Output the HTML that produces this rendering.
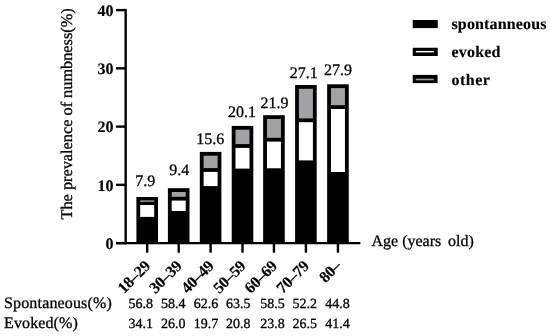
<!DOCTYPE html><html><head><meta charset="utf-8"><style>html,body{margin:0;padding:0;background:#fff;}svg{display:block;}text{font-family:"Liberation Serif","Times New Roman",serif;fill:#000;text-rendering:geometricPrecision;stroke:#000;stroke-width:0.3px;}text[font-weight="bold"]{stroke-width:0.15px;}</style></head><body>
<svg width="550" height="336" viewBox="0 0 550 336">
<rect width="550" height="336" fill="#fff"/>
<rect x="136.40" y="197.00" width="21.60" height="46.10" fill="#000"/>
<rect x="140.20" y="200.40" width="14.00" height="1.40" fill="#a2a1a6"/>
<rect x="140.20" y="205.00" width="14.00" height="11.90" fill="#fff"/>
<rect x="167.90" y="188.20" width="21.60" height="54.90" fill="#000"/>
<rect x="171.70" y="192.00" width="14.00" height="4.80" fill="#a2a1a6"/>
<rect x="171.70" y="200.60" width="14.00" height="10.40" fill="#fff"/>
<rect x="199.80" y="151.90" width="21.60" height="91.20" fill="#000"/>
<rect x="203.60" y="155.70" width="14.00" height="12.40" fill="#a2a1a6"/>
<rect x="203.60" y="171.90" width="14.00" height="14.20" fill="#fff"/>
<rect x="231.70" y="125.90" width="21.60" height="117.20" fill="#000"/>
<rect x="235.50" y="129.70" width="14.00" height="14.40" fill="#a2a1a6"/>
<rect x="235.50" y="147.90" width="14.00" height="20.70" fill="#fff"/>
<rect x="263.15" y="115.20" width="21.60" height="127.90" fill="#000"/>
<rect x="266.95" y="119.00" width="14.00" height="18.80" fill="#a2a1a6"/>
<rect x="266.95" y="141.60" width="14.00" height="26.70" fill="#fff"/>
<rect x="295.10" y="85.00" width="21.60" height="158.10" fill="#000"/>
<rect x="298.90" y="88.80" width="14.00" height="29.60" fill="#a2a1a6"/>
<rect x="298.90" y="122.20" width="14.00" height="38.20" fill="#fff"/>
<rect x="327.15" y="84.30" width="21.60" height="158.80" fill="#000"/>
<rect x="330.95" y="88.10" width="14.00" height="17.10" fill="#a2a1a6"/>
<rect x="330.95" y="109.00" width="14.00" height="63.00" fill="#fff"/>
<line x1="125.65" y1="8.9" x2="125.65" y2="244.30" stroke="#000" stroke-width="2.4"/>
<line x1="116" y1="243.10" x2="125.65" y2="243.10" stroke="#000" stroke-width="2.4"/>
<text x="113.5" y="248.90" font-size="16" font-weight="bold" text-anchor="end">0</text>
<line x1="116" y1="184.85" x2="125.65" y2="184.85" stroke="#000" stroke-width="2.4"/>
<text x="113.5" y="190.65" font-size="16" font-weight="bold" text-anchor="end">10</text>
<line x1="116" y1="126.60" x2="125.65" y2="126.60" stroke="#000" stroke-width="2.4"/>
<text x="113.5" y="132.40" font-size="16" font-weight="bold" text-anchor="end">20</text>
<line x1="116" y1="68.35" x2="125.65" y2="68.35" stroke="#000" stroke-width="2.4"/>
<text x="113.5" y="74.15" font-size="16" font-weight="bold" text-anchor="end">30</text>
<line x1="116" y1="10.10" x2="125.65" y2="10.10" stroke="#000" stroke-width="2.4"/>
<text x="113.5" y="15.90" font-size="16" font-weight="bold" text-anchor="end">40</text>
<line x1="116" y1="243.1" x2="360.4" y2="243.1" stroke="#000" stroke-width="2.4"/>
<line x1="147.20" y1="243.1" x2="147.20" y2="252.7" stroke="#000" stroke-width="2.4"/>
<line x1="178.70" y1="243.1" x2="178.70" y2="252.7" stroke="#000" stroke-width="2.4"/>
<line x1="210.60" y1="243.1" x2="210.60" y2="252.7" stroke="#000" stroke-width="2.4"/>
<line x1="242.50" y1="243.1" x2="242.50" y2="252.7" stroke="#000" stroke-width="2.4"/>
<line x1="273.95" y1="243.1" x2="273.95" y2="252.7" stroke="#000" stroke-width="2.4"/>
<line x1="305.90" y1="243.1" x2="305.90" y2="252.7" stroke="#000" stroke-width="2.4"/>
<line x1="337.95" y1="243.1" x2="337.95" y2="252.7" stroke="#000" stroke-width="2.4"/>
<text x="145.20" y="186.00" font-size="16" text-anchor="middle">7.9</text>
<text x="179.25" y="175.00" font-size="16" text-anchor="middle">9.4</text>
<text x="210.30" y="143.50" font-size="16" text-anchor="middle">15.6</text>
<text x="241.90" y="116.50" font-size="16" text-anchor="middle">20.1</text>
<text x="274.50" y="108.10" font-size="16" text-anchor="middle">21.9</text>
<text x="303.80" y="78.10" font-size="16" text-anchor="middle">27.1</text>
<text x="337.90" y="75.00" font-size="16" text-anchor="middle">27.9</text>
<text x="0" y="0" font-size="16" font-weight="bold" text-anchor="end" textLength="38.6" transform="translate(151.40,266.90) rotate(-45)">18–29</text>
<text x="0" y="0" font-size="16" font-weight="bold" text-anchor="end" textLength="38.6" transform="translate(182.90,266.90) rotate(-45)">30–39</text>
<text x="0" y="0" font-size="16" font-weight="bold" text-anchor="end" textLength="38.6" transform="translate(214.80,266.90) rotate(-45)">40–49</text>
<text x="0" y="0" font-size="16" font-weight="bold" text-anchor="end" textLength="38.6" transform="translate(246.70,266.90) rotate(-45)">50–59</text>
<text x="0" y="0" font-size="16" font-weight="bold" text-anchor="end" textLength="38.6" transform="translate(278.15,266.90) rotate(-45)">60–69</text>
<text x="0" y="0" font-size="16" font-weight="bold" text-anchor="end" textLength="38.6" transform="translate(310.10,266.90) rotate(-45)">70–79</text>
<text x="0" y="0" font-size="16" font-weight="bold" text-anchor="end" textLength="23.4" transform="translate(342.15,266.90) rotate(-45)">80–</text>
<text x="0" y="0" font-size="16.3" text-anchor="middle" transform="translate(71.7,113.9) rotate(-90)">The prevalence of numbness(%)</text>
<text x="371.5" y="246" font-size="16">Age (years <tspan dx="2.7">old)</tspan></text>
<rect x="412.75" y="20" width="25" height="8.1" fill="#000"/>
<rect x="412.75" y="47.75" width="25" height="8.25" fill="#000"/>
<rect x="415.8" y="50.9" width="18" height="1.5" fill="#fff"/>
<rect x="412.75" y="74.9" width="24.8" height="8.2" fill="#000"/>
<rect x="415.8" y="78.7" width="18" height="1.6" fill="#a2a1a6"/>
<text x="451.5" y="29" font-size="16" font-weight="bold" textLength="94.9">spontanneous</text>
<text x="451.5" y="56.5" font-size="16" font-weight="bold" textLength="49">evoked</text>
<text x="451.5" y="84.8" font-size="16" font-weight="bold" textLength="38.4">other</text>
<text x="4" y="307.8" font-size="16" textLength="107.8">Spontaneous(%)</text>
<text x="4" y="327.6" font-size="16" textLength="73.8">Evoked(%)</text>
<text x="128.50" y="307.9" font-size="14">56.8</text>
<text x="128.50" y="328.2" font-size="14">34.1</text>
<text x="161.00" y="307.9" font-size="14">58.4</text>
<text x="161.00" y="328.2" font-size="14">26.0</text>
<text x="193.75" y="307.9" font-size="14">62.6</text>
<text x="193.75" y="328.2" font-size="14">19.7</text>
<text x="226.00" y="307.9" font-size="14">63.5</text>
<text x="226.00" y="328.2" font-size="14">20.8</text>
<text x="260.30" y="307.9" font-size="14">58.5</text>
<text x="260.30" y="328.2" font-size="14">23.8</text>
<text x="292.60" y="307.9" font-size="14">52.2</text>
<text x="292.60" y="328.2" font-size="14">26.5</text>
<text x="325.30" y="307.9" font-size="14">44.8</text>
<text x="325.30" y="328.2" font-size="14">41.4</text>
</svg></body></html>
